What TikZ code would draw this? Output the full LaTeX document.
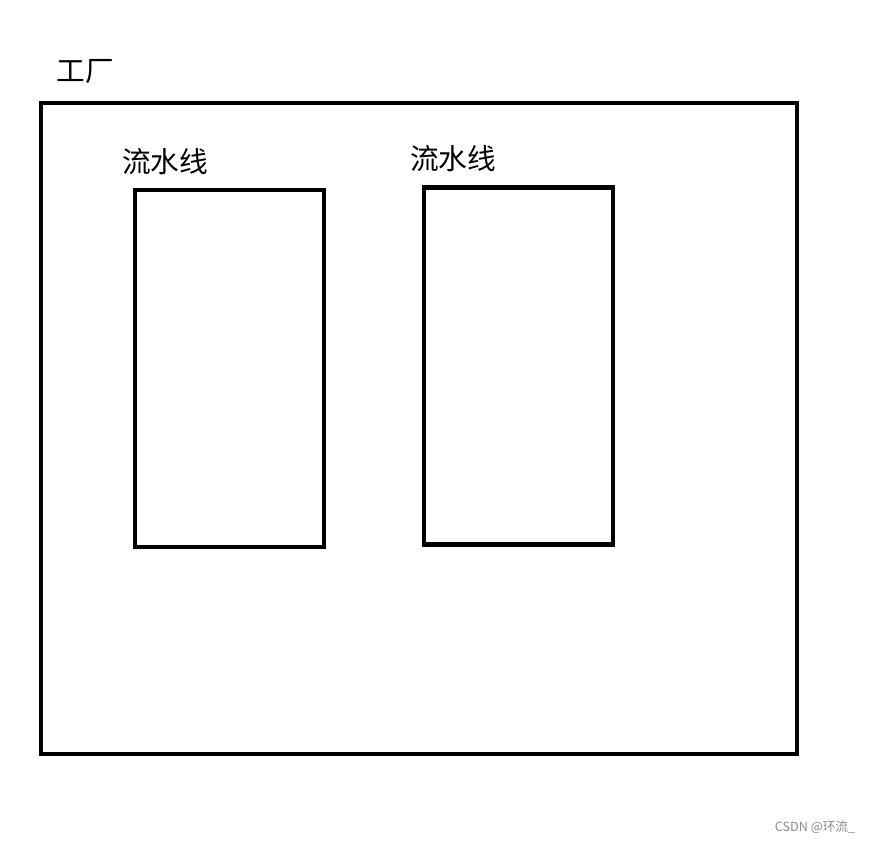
\documentclass[tikz,border=0pt]{standalone}
\usepackage{fontspec}
\newfontfamily\cjk{Noto Sans CJK SC}
\usepackage{tikz}
\tikzset{
  boxline/.style={draw=black, line width=3.4pt, inner sep=0pt},
  lbl/.style={font=\cjk\fontsize{21.5}{24}\selectfont, inner sep=0pt},
}

\begin{document}
\begin{tikzpicture}[x=0.75pt, y=-0.75pt]
			%%%%% START %%%%%
			\useasboundingbox (0, 0) rectangle (870, 843);
			
			\node[boxline, minimum width=567pt, minimum height=488.25pt] (factory) at (419, 428.5) {};
			\node[lbl] (factoryname) at (85, 72) {工厂};
			
			\node[boxline, minimum width=141.75pt, minimum height=267.75pt] (lineA) at (229.5, 368.5) {};
			\node[lbl] (lineAname) at (165, 162) {流水线};
			
			\node[boxline, minimum width=141.75pt, minimum height=267.75pt] (lineB) at (518.5, 366) {};
			\node[lbl] (lineBname) at (453, 159) {流水线};
			
			\node[font=\cjk\fontsize{9.5}{11}\selectfont, text=black!45, inner sep=0pt] (mark) at (815, 827) {CSDN @环流\_};
			%%%%% END %%%%%
\end{tikzpicture}
\end{document}
